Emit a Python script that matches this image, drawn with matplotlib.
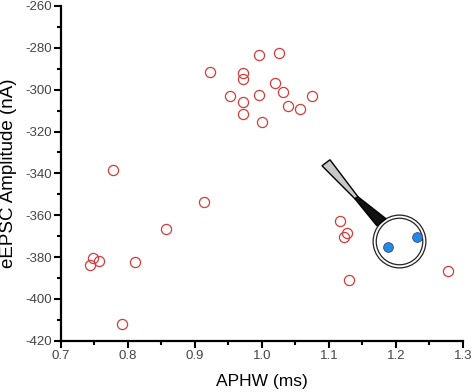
import matplotlib
matplotlib.use('Agg')
import matplotlib.pyplot as plt
from matplotlib.patches import Polygon
from matplotlib.ticker import MultipleLocator, FormatStrFormatter
import numpy as np

plt.rcParams['font.family'] = ['Liberation Sans', 'DejaVu Sans']
plt.rcParams['axes.unicode_minus'] = False

# open circles: APHW (ms) vs eEPSC amplitude (nA)
aphw = [0.922, 0.952, 0.971, 0.971, 0.995, 1.025, 1.020, 1.031, 1.074, 0.995,
        0.971, 1.039, 1.057, 0.972, 1.000, 0.777, 0.914, 0.856, 0.748, 0.756,
        0.744, 0.810, 0.791, 1.116, 1.127, 1.122, 1.130, 1.277]
amp = [-291.4, -302.8, -292.1, -295.0, -283.4, -282.6, -296.8, -301.2, -303.1, -302.5,
       -306.0, -307.8, -309.3, -311.7, -315.5, -338.2, -353.9, -366.6, -380.5, -381.8,
       -384.0, -382.6, -412.0, -363.0, -368.3, -370.5, -390.9, -386.6]

# highlighted (filled) cells
aphw_hl = [1.188, 1.232]
amp_hl = [-375.1, -370.6]

fig = plt.figure(figsize=(4.74, 3.92), dpi=100)
ax = fig.add_axes([0.1287, 0.1309, 0.848, 0.8538])

ax.plot(aphw, amp, 'o', ms=7.3, mfc='none', mec='#d23c3c', mew=0.9)
ax.plot(aphw_hl, amp_hl, 'o', ms=7.0, mfc='#1e8fe0', mec='#4a3a8a', mew=0.6, zorder=4)

# electrode drawing pointing at the highlighted cells
cx, cy = np.mean(aphw_hl) - 0.006, np.mean(amp_hl) + 0.3
ax.plot([cx], [cy], 'o', ms=38, mfc='none', mec='#222222', mew=0.9, zorder=3)
ax.plot([cx], [cy], 'o', ms=33.5, mfc='none', mec='#222222', mew=0.9, zorder=3)
ax.add_patch(Polygon([(1.0896, -336.4), (1.1015, -333.5), (1.1433, -351.2), (1.1388, -352.2)],
                     closed=True, fc='#c8c8c8', ec='black', lw=1.0, zorder=3))
ax.add_patch(Polygon([(1.1388, -352.2), (1.1433, -351.2), (1.1851, -361.7), (1.1716, -365.1)],
                     closed=True, fc='#111111', ec='black', lw=1.0, zorder=3))

ax.set_xlim(0.7, 1.3)
ax.set_ylim(-420, -260)
ax.xaxis.set_major_locator(MultipleLocator(0.1))
ax.xaxis.set_minor_locator(MultipleLocator(0.05))
ax.xaxis.set_major_formatter(FormatStrFormatter('%.1f'))
ax.yaxis.set_major_locator(MultipleLocator(20))
ax.yaxis.set_minor_locator(MultipleLocator(10))

for s in ['top', 'right']:
    ax.spines[s].set_visible(False)
for s in ['left', 'bottom']:
    ax.spines[s].set_linewidth(1.6)
ax.tick_params(which='major', direction='out', length=5, width=1.5,
               labelsize=9.5, labelcolor='#444444', pad=1.5)
ax.tick_params(which='minor', direction='out', length=3, width=1.5)

ax.set_xlabel('APHW (ms)', fontsize=12.5, labelpad=9)
ax.set_ylabel('eEPSC Amplitude (nA)', fontsize=13.5, labelpad=6)

fig.savefig('out.png', dpi=100)
